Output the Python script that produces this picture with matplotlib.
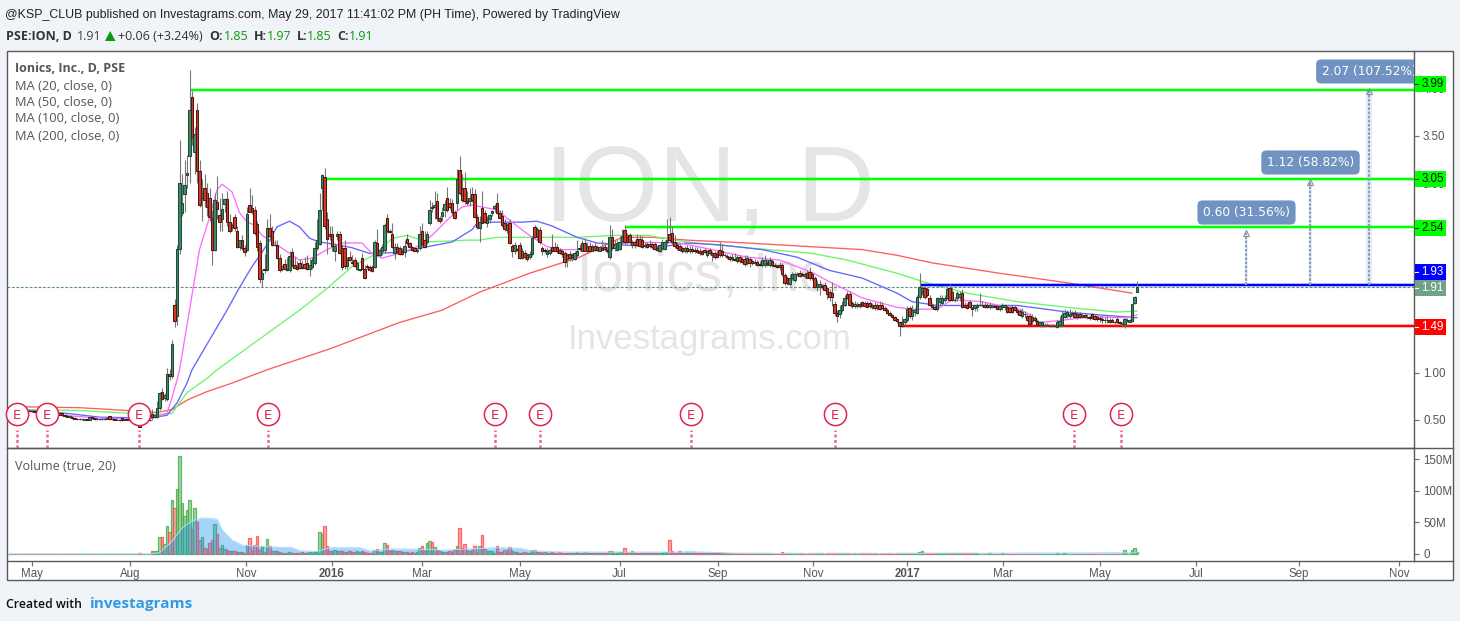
import numpy as np
import matplotlib
matplotlib.use("Agg")
import matplotlib.pyplot as plt
from matplotlib.patches import Rectangle, Polygon
from matplotlib.lines import Line2D
from matplotlib.colors import to_rgba

# ---------- data: sessions as (open, high, low, close, volume) ; prices in centavos, volume in millions
FIRST_SESSION = 1
flat_2015 = [
 (60,61,59,60,.3),(60,61,59,60,.3),(60,61,60,61,.3),(61,61,59,60,.3),
 (60,61,59,60,.3),(60,61,59,60,.3),(60,61,59,59,.3),(59,61,58,60,.3),(60,61,59,59,.3),(59,60,58,59,.3),(59,60,58,58,.3),(58,60,57,59,.3),
 (59,60,58,58,.3),(58,59,57,58,.3),(58,59,57,58,.3),(58,59,57,57,.3),(57,59,56,58,.3),(58,58,56,57,.3),(57,58,56,56,.3),(56,58,55,57,.3),
 (57,58,55,55,.5),(57,58,54,55,.3),(55,56,53,54,.3),(54,56,53,53,.3),(53,55,52,54,.3),(53,54,51,52,.3),(52,53,51,51,.3),(51,52,50,51,.3),
 (51,52,50,51,.3),(51,52,50,51,.3),(50,51,50,51,.3),(51,51,50,50,.3),(50,53,50,53,.6),(53,53,51,52,.3),(52,52,50,51,.3),(51,52,50,51,.3),
 (51,51,50,51,.3),(51,52,50,51,.3),(51,52,50,51,.3),(51,52,51,52,.3),(54,54,50,51,.4),(51,52,50,51,.3),(51,51,50,50,.3),(50,51,50,50,.3),
 (50,51,49,50,.3),(52,52,49,50,.4),(50,51,50,51,.3),(51,51,50,50,.3),(50,51,50,51,.3),(50,51,50,50,.3),(50,51,50,50,.3),(50,51,50,50,.3),
 (48,49,43,43,1.5),(47,50,46,49,.4),(49,50,48,50,.3),(50,51,49,50,.4),(50,51,49,50,.5),
]
breakout_2015 = [
 (56,62,50,53,5),(53,56,52,55,4),(53,70,52,63,4),(63,80,61,79,27),(80,84,71,72,27),(73,78,70,76,16),(72,105,70,99,45),(99,104,92,96,35),
 (96,135,94,130,85),(172,178,148,155,72),(160,235,150,231,103),(231,346,225,300,155),(269,310,265,279,80),(289,325,270,298,60),(309,330,295,311,70),(329,420,300,377,85),
 (391,398,340,349,40),(333,360,310,352,72),(377,385,300,313,50),(313,325,275,277,22),(285,305,260,290,27),(295,310,275,282,10),(290,300,265,275,8),(284,295,260,264,18),
]
decline_2015 = [
 (263,272,214,230,22),(230,290,228,282,47),(280,308,262,273,31),(267,285,250,259,10),(262,290,250,273,15),(278,285,270,283,8),(283,292,255,259,7),(259,268,248,250,5),
 (254,258,250,256,5),(264,268,250,253,4),(250,255,232,233,3),(233,240,230,240,3),(240,245,230,232,3),(232,235,223,227,2),(230,275,228,268,14),(277,295,270,270,25),
 (274,288,268,271,5),(272,276,245,248,14),(257,260,228,233,28),(237,240,195,199,6),(199,210,190,205,12),(209,225,205,208,3),(208,262,207,253,24),(253,268,240,244,12),
 (250,255,234,235,5),(235,240,234,235,4),(235,240,220,221,4),(221,225,206,208,3),(209,214,207,209,2),(215,220,208,210,2),(208,222,207,210,1),(208,228,206,223,3),
 (227,232,212,214,2),(214,222,210,211,2),(212,218,208,210,1),(216,220,209,211,2),(211,218,209,212,3),(215,222,210,211,2),(216,224,208,210,2),(209,220,202,214,3),
 (212,222,209,219,2),(216,238,214,232,3),(232,262,230,240,4),(236,290,235,272,35),(295,310,272,309,31),(307,316,252,255,44),(262,270,225,241,12),(247,255,240,244,5),
]
early_2016 = [
 (246,255,228,234,5),(229,237,218,234,6),(244,250,240,247,5),(247,250,225,226,5),(232,236,208,212,4),(232,240,210,213,3),(213,222,210,219,3),(222,228,218,219,4),
 (217,224,215,216,3),(219,222,212,213,3),(209,218,208,216,4),(208,210,207,209,3),(221,226,209,209,4),(209,214,199,200,3),(213,215,210,212,2),(212,214,207,208,2),
 (212,214,206,207,2),(212,240,211,238,7),(237,252,223,224,8),(224,232,222,230,3),(228,236,224,233,3),(230,258,226,256,18),(263,268,248,250,15),(250,252,248,249,5),
 (247,258,232,233,6),(226,237,220,233,4),(233,237,226,227,4),(232,234,224,225,4),(229,232,224,225,3),(227,240,222,234,3),(241,246,235,237,3),(237,238,232,233,2),
 (233,234,228,230,3),(232,233,228,229,2),(228,232,226,230,3),(232,255,230,247,9),(250,258,234,236,13),(240,250,232,233,4),(238,250,236,246,18),(258,282,256,272,21),
 (275,280,270,274,19),(275,292,262,277,11),(281,290,260,263,6),(263,265,258,260,4),(265,275,260,270,3),(272,282,264,278,3),(284,296,270,272,3),(279,285,273,275,4),
]
spring_2016 = [
 (279,283,267,270,3),(270,272,262,263,7),(279,315,272,305,13),(314,329,288,290,41),(295,310,280,282,10),(295,312,278,281,16),(281,292,277,279,6),(281,295,276,284,5),
 (289,296,280,282,6),(289,294,263,264,13),(264,268,252,254,3),(253,265,238,259,13),(274,292,258,258,30),(269,272,258,259,8),(258,265,254,262,5),(262,268,258,267,4),
 (269,272,265,271,4),(274,278,270,276,2),(279,290,268,269,13),(269,272,262,263,3),(266,272,254,256,3),(258,262,250,252,6),(251,258,248,256,5),(258,262,236,237,11),
 (234,236,222,228,5),(229,238,225,235,3),(231,232,228,230,3),(235,238,220,221,2),(221,232,220,228,2),(226,230,220,222,3),(224,226,218,220,2),(222,228,220,225,2),
 (225,244,223,242,6),(254,256,242,243,7),(244,254,240,252,3),(251,254,236,238,3),(232,234,224,228,2),(230,232,226,228,3),(225,232,222,229,2),(226,232,224,230,2),
]
mid_2016 = [
 (233,246,227,229,3),(233,238,228,229,2),(233,236,226,229,2),(230,232,225,226,3),(229,231,222,225,2),(226,228,212,217,2),(220,226,212,224,1),(225,228,218,221,2),
 (224,226,218,222,2),(220,228,219,226,1),(224,240,222,229,3),(232,236,228,231,2),(229,240,228,237,2),(237,242,228,229,3),(229,238,226,233,1),(234,238,228,229,2),
 (229,236,228,233,2),(234,238,228,230,2),(233,235,229,230,1),(229,234,228,233,2),(232,240,230,230,2),(233,238,229,231,2),(230,233,226,228,1),(222,256,220,243,4),
 (243,252,230,232,5),(232,240,228,236,2),(230,240,228,237,2),(231,244,230,238,3),(239,252,236,244,3),(251,256,236,238,10),(243,248,236,238,2),(245,248,236,238,2),
 (235,240,232,238,4),(238,240,232,235,2),(241,246,234,235,2),(241,245,233,234,1),(240,244,232,233,2),(234,238,232,235,1),(236,238,232,233,1),(236,240,232,234,1),
 (233,238,231,236,1),(236,238,230,231,1),(232,234,228,230,1),(229,236,227,235,1),(232,241,230,238,2),(231,240,230,238,3),(238,262,236,240,2),(246,264,238,240,22),
]
autumn_2016 = [
 (248,254,236,238,5),(238,245,232,234,2),(235,238,230,232,2),(234,236,228,230,5),(232,234,226,228,2),(228,234,226,232,1),(232,235,226,228,1),(228,234,226,231,1),
 (231,234,226,228,1),(230,233,226,228,1),(230,233,226,227,1),(229,232,224,226,1),(228,230,224,225,1),(230,232,226,227,1),(224,230,222,228,1),(230,232,224,226,1),
 (224,228,218,226,1),(226,228,220,222,1),(225,228,221,222,1),(230,238,222,224,1),(228,236,222,224,1),(224,226,222,224,1),(223,225,220,222,1),(222,224,218,220,1),
 (220,225,218,222,1),(220,226,218,219,1),(218,224,216,222,1),(222,224,216,218,1),(220,222,216,217,1),(220,224,213,215,1),(216,224,214,221,1),(220,222,212,216,1),
 (218,220,214,216,1),(216,220,214,217,1),(217,219,213,214,1),(215,218,213,214,1),(214,222,212,219,1),(214,224,212,219,1),(216,220,213,215,1),(214,222,212,219,1),
 (218,220,212,214,1),(214,216,212,213,.5),(213,215,211,212,.5),(214,217,208,212,.5),(214,216,202,204,3),(203,205,193,195,1.5),(200,202,193,195,1),(194,204,192,200,1),
 (200,206,198,204,1),(198,206,196,204,1),(204,206,202,204,.5),(205,208,201,202,1),(204,206,202,203,1),(202,206,200,204,.5),(205,208,200,200,.5),(206,212,198,200,1),
 (204,206,198,200,.5),(200,202,189,190,1),(190,198,186,194,1),(190,198,182,194,1),(192,194,188,190,1),(193,196,186,187,.5),(189,190,178,183,1),(185,188,176,180,1),
]
late_2016 = [
 (184,196,170,180,1),(173,176,160,163,1),(163,166,154,160,1),(162,172,158,166,1),(166,176,164,171,1),(171,182,170,179,1),(183,186,178,179,1),(183,186,170,171,1),
 (174,176,168,170,.5),(170,176,168,173,1),(170,175,168,172,.5),(173,175,168,170,1),(175,176,169,171,1),(174,176,169,170,1),(174,176,168,169,1),(174,176,168,170,1),
 (169,174,167,172,.5),(172,175,166,168,1),(168,174,166,171,.5),(172,176,166,167,.5),(172,175,167,168,1),(168,170,165,166,.5),(166,168,162,163,1),(163,165,160,161,1),
 (161,162,158,159,1),(159,160,155,156,.5),(157,158,152,155,1),(153,155,139,149,1),(149,160,148,153,1),(153,158,150,157,1),(156,170,154,167,1),(168,170,158,160,1),
 (160,172,156,166,1),(164,168,160,166,1),(163,182,162,180,1),(180,205,178,190,3),(185,192,182,189,4),(189,192,178,180,1),(188,190,180,182,1),(179,182,170,171,1),
]
early_2017 = [
 (171,174,168,169,1),(169,171,166,167,1),(167,180,165,179,1),(175,182,172,179,1),(174,182,172,179,1),(177,182,175,179,1),(179,192,178,188,1),(189,194,176,177,2),
 (185,190,176,177,1),(177,180,175,177,1),(179,186,176,184,1),(180,186,176,183,1),(184,188,168,169,1),(172,175,168,169,1),(172,174,167,168,1),(175,177,168,169,1),
 (168,170,160,167,1),(168,172,165,171,1),(169,174,165,172,1),(172,184,170,172,.5),(171,176,169,172,.5),(172,175,168,169,.5),(171,174,168,169,.5),(169,174,167,171,1),
 (170,173,168,170,.5),(170,172,168,169,.5),(170,172,166,167,.5),(167,172,165,170,.5),(169,174,166,172,1),(169,173,166,172,.5),(169,171,163,164,.5),(168,170,163,164,.5),
 (169,172,163,164,.5),(169,171,165,166,.5),(166,168,162,164,.5),(165,167,160,161,.5),(160,168,158,164,.5),(162,165,158,162,.5),(160,162,155,156,.5),(160,163,150,151,.5),
]
spring_2017 = [
 (155,162,150,159,.5),(158,160,154,156,.5),(155,157,149,150,.5),(150,155,148,153,.5),(150,155,148,153,.5),(150,152,148,150,.3),(150,152,149,150,.3),(149,151,148,149,.3),
 (149,151,148,149,.3),(149,150,148,149,.3),(148,156,147,153,1),(150,160,148,155,.5),(150,166,148,161,.5),(159,167,158,163,1),(162,166,158,164,.5),(160,167,158,162,.5),
 (162,165,160,163,.3),(163,166,158,159,.5),(159,164,157,162,.3),(162,164,158,159,.3),(160,163,158,160,.3),(161,163,158,159,.3),(159,162,157,159,.3),(159,161,156,158,.3),
 (162,163,157,158,.3),(160,162,156,157,.3),(159,161,155,157,.3),(158,160,154,157,.3),(157,160,152,156,.3),(156,159,152,156,.3),(156,160,152,156,.3),(156,158,152,154,.3),
 (156,158,153,154,.3),(153,155,150,153,.3),(157,159,152,153,.3),(153,155,150,152,.3),(151,153,148,151,.3),(151,158,147,157,6),(155,158,153,156,.5),(154,157,153,156,.5),
 (155,173,154,173,6),(174,181,173,180,9),(185,197,185,191,3),
]

ma20_x = [5,22,37,48,57,64,66,68,69,73,77,81,84,86,90,93,96,99,102,108,117,122,128,134,142,146,150,157,164,170,176,182,186,196,202,209,216,222,229,240,249,269,282,296,309,316,322,329,336,342,356,362,372,378,390,397,404,408,413,421,430,437,448,452]
ma20_y = [60,55,52,51,51,57,74,92,103,166,230,264,293,299,291,269,259,256,245,235,219,221,230,237,237,226,221,226,233,245,261,275,277,272,259,245,233,230,230,232,238,237,230,222,219,212,206,196,187,179,169,167,167,177,175,171,168,163,153,155,158,159,158,161]
ma50_x = [5,24,37,57,64,68,72,74,88,93,98,104,108,113,117,121,125,130,138,145,157,168,178,186,188,194,206,212,218,228,236,245,262,272,285,302,316,329,342,356,362,372,390,404,410,424,437,452]
ma50_y = [61,57,53,52,55,68,89,103,166,190,212,235,254,260,254,242,238,236,232,226,227,233,238,251,258,259,259,260,255,243,237,235,233,237,235,230,222,208,200,184,175,171,171,171,169,164,161,158]
ma100_x = [5,29,50,60,66,72,80,84,117,128,138,148,154,160,168,184,189,196,213,229,242,256,272,296,322,336,356,369,384,404,424,444,452]
ma100_y = [61,60,57,56,57,79,94,103,166,189,212,226,242,245,238,240,240,243,243,243,245,245,238,232,226,219,205,194,184,175,169,164,165]
ma200_x = [5,29,42,60,66,72,80,90,104,129,157,174,189,209,229,246,258,272,296,322,342,356,370,397,424,450]
ma200_y = [64,63,61,58,61,71,80,89,103,125,153,166,185,205,222,243,243,240,237,233,230,224,216,205,195,184]
vol_ma_x = [1,58,61,66,70,74,78,84,86,90,94,106,114,117,124,129,141,145,154,169,175,185,196,205,210,222,270,272,286,290,330,452]
vol_ma_y = [.3,.3,2,20,41,52,57,55,38,22,14,11,10,5,4,10,10,5,8,7,6,8,10,9,5,3,3,4,2,1,.5,2]

month_ticks = [10,49.2,95.6,130,166,205,245,284.4,322.4,360,398.4,437.2,475.6,516.8,556.8]
month_labels = ["May","Aug","Nov","2016","Mar","May","Jul","Sep","Nov","2017","Mar","May","Jul","Sep","Nov"]
bold_labels = {"2016","2017"}
earnings = [4,16,52.8,104.4,195.2,213.2,273.6,331.2,426.8,445.6]
price_ticks = [0.5,1.0,1.5,2.0,2.5,3.0,3.5,4.0]
price_tick_labels = ["0.50","1.00","","","","3.00","3.50","4.00"]
vol_ticks = [0,50,100,150]
vol_tick_labels = ["0","50M","100M","150M"]
levels = [(3.99,73,"#00ff00"),(3.05,126,"#00ff00"),(2.54,247,"#00ff00"),(1.93,365,"#0000ff"),(1.49,357,"#ff0000")]
last_price = 1.91
targets = [(495.6,2.50,"0.60 (31.56%)",1.8),(521.2,3.03,"1.12 (58.82%)",2.2),(544.8,3.99,"2.07 (107.52%)",4.6)]
ma_legend = ["MA (20, close, 0)","MA (50, close, 0)","MA (100, close, 0)","MA (200, close, 0)"]

# ---------- layout helpers
W, H = 1460, 621
fx = lambda p: p / W
fy = lambda p: 1 - p / H
def box(l, t, r, b):
    return [fx(l), fy(b), fx(r) - fx(l), fy(t) - fy(b)]

plt.rcParams['font.family'] = ['Liberation Sans', 'DejaVu Sans']
BG = "#f0f3f7"
FRAME = "#5a5a5a"
TXT = "#555555"
fig = plt.figure(figsize=(14.6, 6.21), dpi=100, facecolor=BG)
fig.add_artist(Rectangle((fx(7), fy(580)), fx(1446), fy(51) - fy(580), transform=fig.transFigure,
                         facecolor="white", edgecolor=FRAME, lw=1.0, zorder=-1))

# ---------- assemble
sessions = np.array(flat_2015 + breakout_2015 + decline_2015 + early_2016 + spring_2016 + mid_2016
                    + autumn_2016 + late_2016 + early_2017 + spring_2017, dtype=float)
x = FIRST_SESSION + np.arange(len(sessions))
o, h, l, c = sessions[:, 0] / 100, sessions[:, 1] / 100, sessions[:, 2] / 100, sessions[:, 3] / 100
vol = sessions[:, 4]
up = c >= o

XMAX = (1414 - 7) / 2.5
ax = fig.add_axes(box(7, 51, 1414, 448), facecolor="none")
ax.set_xlim(0, XMAX)
ax.set_ylim(0.5 - 28 / 94.67, 0.5 + 369 / 94.67)
av = fig.add_axes(box(7, 448, 1414, 561), facecolor="none")
av.set_xlim(0, XMAX)
av.set_ylim(-7 / 0.633, 106 / 0.633)

# ---------- watermarks
for txt, py, size in [("ION, D", 193, 78), ("Ionics, Inc.", 277, 40), ("Investagrams.com", 340, 25)]:
    ax.text(fx(710), fy(py), txt, transform=fig.transFigure, ha="center", va="center",
            fontsize=size, color="#e5e5e5", zorder=0.5)

# ---------- moving averages
for xs, ys, col in [(ma200_x, ma200_y, "#ff5c5c"), (ma100_x, ma100_y, "#6cf56c"),
                    (ma50_x, ma50_y, "#6464ff"), (ma20_x, ma20_y, "#ff6cff")]:
    ax.plot(xs, np.array(ys) / 100, color=col, lw=0.95, zorder=2)

# ---------- last price + level lines
ax.axhline(last_price, color="#5f8f78", lw=0.8, ls=(0, (2.5, 1.5)), zorder=1.5)
for val, start, col in levels:
    ax.plot([start, XMAX], [val, val], color=col, lw=3.0, alpha=.25, zorder=3, solid_capstyle="butt")
    ax.plot([start, XMAX], [val, val], color=col, lw=1.5, zorder=3.1, solid_capstyle="butt")

# ---------- candles
ax.vlines(x, l, h, color="#777777", lw=0.8, zorder=4)
body_bot = np.minimum(o, c)
body_h = np.abs(c - o)
ax.bar(x[up], body_h[up], bottom=body_bot[up], width=0.92, color="#3f8a66", edgecolor="#1e4a36", lw=0.75, zorder=5)
ax.bar(x[~up], body_h[~up], bottom=body_bot[~up], width=0.92, color="#d0392a", edgecolor="#4a1a12", lw=0.75, zorder=5)

# ---------- targets
for bx, top, label, band in targets:
    ax.vlines(bx, 1.93, top, color="#e3eefb", lw=band, zorder=1.8)
    ax.vlines(bx, 1.93, top - .02, color="#8e9db2", lw=1.5, linestyles=(0, (1.3, 0.7)), zorder=3.5)
    ax.plot([bx], [top - .02], marker="^", ms=4.5, mfc="none", mec="#7c8a9c", mew=.7, zorder=3.6)
for (bx, top, label, band), (cx, py) in zip(targets, [(1246.5, 212.5), (1310.5, 162.5), (1369, 71.5)]):
    ax.text(fx(cx), fy(py), label, transform=fig.transFigure, ha="center", va="center", family="DejaVu Sans",
            fontsize=8.8, color="white", clip_on=True, zorder=8,
            bbox=dict(boxstyle="round,pad=0.42,rounding_size=0.35", fc="#7193c2", ec="#7193c2", lw=0.5))

# ---------- earnings markers
tr = ax.get_xaxis_transform()
ax.vlines(earnings, 0, 18 / 397, transform=tr, color="#ea6a88", lw=1.8, linestyles=(0, (1.2, 1)), zorder=6)
ax.plot(earnings, [34 / 397] * len(earnings), transform=tr, ls="none", marker="o", ms=16, mfc="white",
        mec="#e0224e", mew=1.1, clip_on=False, zorder=7)
for e in earnings:
    ax.text(e, 34 / 397, "E", transform=tr, ha="center", va="center_baseline", fontsize=9.5, color="#e0224e", zorder=8,
            family="DejaVu Sans")

# ---------- volume
colors_v = np.where(up, "#4caf50", "#ff5252")
av.bar(x, vol, width=0.95, color=[to_rgba(k, .5) for k in colors_v],
       edgecolor=[to_rgba(k, .85) for k in colors_v], lw=0.9, zorder=2)
av.fill_between(vol_ma_x, 0, vol_ma_y, color="#2196f3", alpha=.4, lw=0, zorder=3)
av.plot(vol_ma_x, vol_ma_y, color="#a9d8fb", lw=0.7, zorder=3)

# ---------- axes cosmetics
for a in (ax, av):
    a.yaxis.tick_right()
    for s in a.spines.values():
        s.set_color(FRAME)
        s.set_linewidth(1.0)
    a.spines["left"].set_visible(False)
    a.tick_params(axis="y", length=3.5, width=0.9, color="#777777", labelcolor=TXT, labelsize=8.3, pad=3)
ax.spines["top"].set_visible(False)
ax.set_xticks([])
ax.set_yticks(price_ticks)
ax.set_yticklabels(price_tick_labels)
av.set_yticks(vol_ticks)
av.set_yticklabels(vol_tick_labels)
av.set_xticks(month_ticks)
av.set_xticklabels(month_labels)
av.tick_params(axis="x", length=3.5, width=0.9, color="#777777", labelcolor=TXT, labelsize=8.3, pad=1.5)
for t in av.get_xticklabels():
    if t.get_text() in bold_labels:
        t.set_fontweight("bold")
for py in (448, 561):
    fig.add_artist(Line2D([fx(1414), fx(1453)], [fy(py), fy(py)], color=FRAME, lw=1.0, zorder=2))

# ---------- price tags
for txt, py, bg, fg in [("3.99", 84, "#00ff00", "#111111"), ("3.05", 179, "#00ff00", "#111111"),
                        ("2.54", 228, "#00ff00", "#111111"), ("1.93", 272, "#0000ff", "white"),
                        ("1.91", 288, "#6fa287", "white"), ("1.49", 327, "#ff0000", "white")]:
    fig.add_artist(Rectangle((fx(1414.5), fy(py + 8)), fx(31.5), fy(py - 8) - fy(py + 8), transform=fig.transFigure,
                             facecolor=bg, edgecolor="none", zorder=5))
    fig.add_artist(Line2D([fx(1415), fx(1418)], [fy(py), fy(py)], color="#333333" if fg != "white" else "white", lw=.8, zorder=6))
    fig.text(fx(1432.5), fy(py), txt, ha="center", va="center", fontsize=8.3, color=fg, zorder=7)

# ---------- legends
OS = ["Open Sans", "DejaVu Sans"]
fig.text(fx(15), fy(68), "Ionics, Inc., D, PSE", family=OS, fontsize=9, fontweight="bold", color=TXT, va="center", zorder=7)
for label, py in zip(ma_legend, [86, 103, 119, 136]):
    fig.text(fx(15), fy(py), label, family=OS, fontsize=9.3, color=TXT, va="center", zorder=7)
fig.text(fx(15), fy(466), "Volume (true, 20)", family=OS, fontsize=9, color=TXT, va="center", zorder=7)

# ---------- header
fig.text(fx(5), fy(15), "@KSP_CLUB published on Investagrams.com, May 29, 2017 11:41:02 PM (PH Time), Powered by TradingView",
         fontsize=8.9, color="#222222", va="center")
fig.text(fx(6), fy(37), "PSE:ION, D", family=OS, fontsize=9, fontweight="bold", color="#333333", va="center")
fig.text(fx(77), fy(37), "1.91", family=OS, fontsize=9, color="#444444", va="center")
fig.add_artist(Polygon([[fx(105), fy(41)], [fx(115.5), fy(41)], [fx(110.2), fy(31)]], closed=True,
                       transform=fig.transFigure, facecolor="#0b9a0b", edgecolor="none"))
fig.text(fx(118), fy(37), "+0.06 (+3.24%)", family=OS, fontsize=9, color="#333333", va="center")
GREEN = "#0b9a0b"
for lab, lx, val, vx in [("O:", 209, "1.85", 224), ("H:", 254, "1.97", 267), ("L:", 297, "1.85", 307), ("C:", 337, "1.91", 349)]:
    fig.text(fx(lx), fy(37), lab, family=OS, fontsize=9, fontweight="bold", color="#333333", va="center")
    fig.text(fx(vx), fy(37), val, family=OS, fontsize=9, color=GREEN, va="center")

# ---------- footer
fig.text(fx(6), fy(604), "Created with", family=OS, fontsize=8.8, fontweight="semibold", color="#111111", va="center")
fig.text(fx(89.5), fy(604), "investagrams", family=OS, fontsize=11, fontweight="bold", color="#2f9be0", va="center")

fig.savefig("out.png", dpi=100, facecolor=BG)
